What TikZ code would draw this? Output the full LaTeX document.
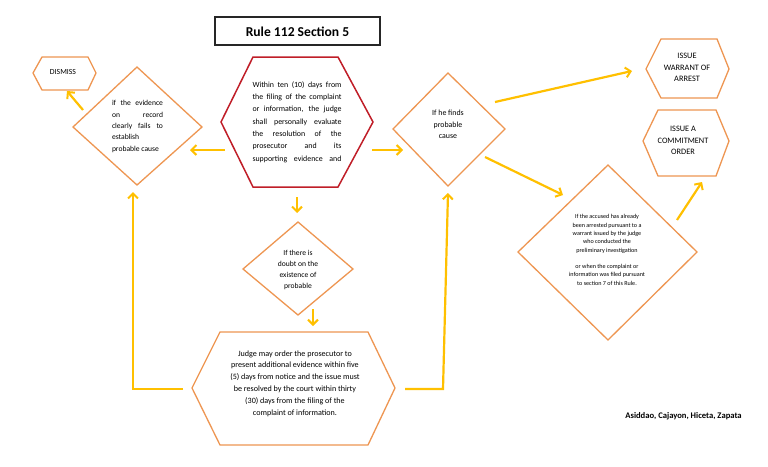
\documentclass[tikz,border=0pt]{standalone}
\usepackage{fontspec}
\setmainfont{Carlito}
\usetikzlibrary{arrows.meta}
\definecolor{orng}{RGB}{238,150,82}
\definecolor{yel}{RGB}{255,192,0}
\definecolor{redb}{RGB}{192,30,40}
\newcommand\jline[2]{\makebox[#1][s]{#2}}
\tikzset{
  orshape/.style={draw=orng,line width=1.3pt,fill=white,line join=miter},
  redshape/.style={draw=redb,line width=1.5pt,fill=white},
  conn/.style={draw=yel,line width=2.2pt,-{Straight Barb[length=5pt,width=10pt,line width=2pt]}},
  txt/.style={inner sep=0pt,align=center,font=\fontsize{8.3}{11.5}\selectfont},
}
\begin{document}
\begin{tikzpicture}[x=1pt,y=-1pt]
\useasboundingbox (0,0) rectangle (768,466);
\fill[white] (0,0) rectangle (768,466);

% title
\draw[line width=1.2pt,draw=black!85] (215,17) rectangle (380,45);
\node[inner sep=0pt,font=\fontsize{13.6}{15}\selectfont\bfseries] (title) at (297.5,31.5) {Rule 112 Section 5};

% DISMISS hexagon
\draw[orshape] (33,73) -- (42,57) -- (88,57) -- (96,73) -- (88,90) -- (42,90) -- cycle;
\node[txt,font=\fontsize{7.8}{10}\selectfont] (dismiss) at (63,72) {DISMISS};

% evidence diamond
\draw[orshape] (137,67) -- (202,127) -- (137,185) -- (73,127) -- cycle;
\node[inner sep=0pt,align=left,font=\fontsize{7.6}{11.3}\selectfont] (evid) at (137.5,126.5)
 {\jline{51pt}{if the evidence}\\\jline{51pt}{on record}\\\jline{51pt}{clearly fails to}\\\makebox[51pt][l]{establish}\\probable cause};

% red hexagon
\draw[redshape] (221,122) -- (253,57) -- (338,57) -- (373,122) -- (338,187) -- (253,187) -- cycle;
\node[inner sep=0pt,align=left,font=\fontsize{7.9}{12.3}\selectfont] (within) at (297,122)
 {\jline{89pt}{Within ten (10) days from}\\\jline{89pt}{the filing of the complaint}\\\jline{89pt}{or information, the judge}\\\jline{89pt}{shall personally evaluate}\\\jline{89pt}{the resolution of the}\\\jline{89pt}{prosecutor and its}\\\jline{89pt}{supporting evidence and}};

% finds diamond
\draw[orshape] (448,73) -- (505,129) -- (448,186) -- (393,129) -- cycle;
\node[txt,font=\fontsize{7.9}{11.5}\selectfont] (finds) at (448,124.5) {If he finds\\probable\\cause};

% warrant hexagon
\draw[orshape] (646,69) -- (661,39) -- (717,39) -- (729,69) -- (717,98) -- (661,98) -- cycle;
\node[txt] (warrant) at (687,67.5) {ISSUE\\WARRANT OF\\ARREST};

% commitment hexagon
\draw[orshape] (643,141) -- (658,110) -- (716,110) -- (729,141) -- (716,176) -- (658,176) -- cycle;
\node[txt] (commit) at (683,140.5) {ISSUE A\\COMMITMENT\\ORDER};

% big diamond
\draw[orshape] (608,165) -- (697,252) -- (608,340) -- (518,252) -- cycle;
\node[inner sep=0pt,align=center,font=\fontsize{6.1}{8.3}\selectfont] (accused) at (607,250)
 {If the accused has already\\been arrested pursuant to a\\warrant issued by the judge\\who conducted the\\preliminary investigation\\[8.3pt]or when the complaint or\\information was filed pursuant\\to section 7 of this Rule.};

% doubt diamond
\draw[orshape] (298,222) -- (353,269) -- (298,315) -- (243,269) -- cycle;
\node[txt,font=\fontsize{7.6}{11}\selectfont] (doubt) at (298,269.5) {If there is\\doubt on the\\existence of\\probable};

% judge hexagon
\draw[orshape] (192,388) -- (220,332) -- (368,332) -- (395,388) -- (368,445) -- (220,445) -- cycle;
\node[inner sep=0pt,align=center,font=\fontsize{8.1}{11.8}\selectfont] (judge) at (295,383.5)
 {Judge may order the prosecutor to\\present additional evidence within five\\(5) days from notice and the issue must\\be resolved by the court within thirty\\(30) days from the filing of the\\complaint of information.};

% credit
\node[inner sep=0pt,font=\fontsize{8.6}{10}\selectfont\bfseries] (credit) at (683.5,416) {Asiddao, Cajayon, Hiceta, Zapata};

% connector coordinates
\coordinate (e1) at (83,110);   \coordinate (d1) at (67,91);
\coordinate (r1) at (225,150);  \coordinate (v1) at (190,150);
\coordinate (r2) at (372,150);  \coordinate (f1) at (403,150);
\coordinate (r3) at (297,197);  \coordinate (t1) at (297,213);
\coordinate (t2) at (313,309);  \coordinate (j1) at (313,326);
\coordinate (j2) at (183,389);  \coordinate (v2) at (133,192);
\coordinate (j3) at (405,389);  \coordinate (k3) at (443,389);  \coordinate (f2) at (448,193);
\coordinate (f3) at (495,102);  \coordinate (w1) at (632,71);
\coordinate (f4) at (485,157);  \coordinate (b1) at (563,195);
\coordinate (b2) at (677,220);  \coordinate (c1) at (702,182);

\draw[conn] (e1) -- (d1);
\draw[conn] (r1) -- (v1);
\draw[conn] (r2) -- (f1);
\draw[conn] (r3) -- (t1);
\draw[conn] (t2) -- (j1);
\draw[conn] (j2) -| (v2);
\draw[conn] (j3) -- (k3) -- (f2);
\draw[conn] (f3) -- (w1);
\draw[conn] (f4) -- (b1);
\draw[conn] (b2) -- (c1);
\end{tikzpicture}
\end{document}
